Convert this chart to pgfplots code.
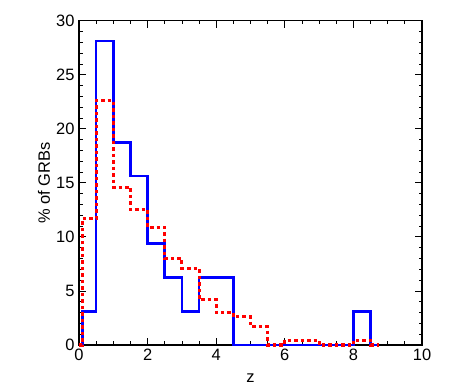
\documentclass[border=0pt]{standalone}
\usepackage{pgfplots}
\pgfplotsset{compat=1.18}
\usepackage{fontspec}
\setmainfont{Liberation Sans}
\usetikzlibrary{calc}
\begin{document}
\begin{tikzpicture}
\begin{axis}[
  scale only axis,
  width=343bp, height=324.3bp,
  xmin=0, xmax=10, ymin=0, ymax=30,
  xtick={0,2,4,6,8,10},
  ytick={0,5,10,15,20,25,30},
  minor x tick num=3,
  minor y tick num=4,
  tick align=inside,
  major tick length=7bp,
  minor tick length=3.5bp,
  tick style={black, line width=0.8bp},
  axis line style={black, line width=1.2bp},
  /pgf/number format/assume math mode=true,
  ticklabel style={font=\fontsize{16.5}{16.5}\selectfont},
  yticklabel style={xshift=-1bp},
  xticklabel style={yshift=-1bp},
  xlabel={z},
  ylabel={\% of GRBs},
  label style={font=\fontsize{16.5}{16.5}\selectfont},
  xlabel style={at={(axis description cs:0.5,{-33/324.3})}, anchor=center},
  ylabel style={at={(axis description cs:{-35/343},0.5)}, anchor=center},
  clip=false,
]
\addplot[const plot mark left, blue, line width=2.6bp, line join=miter] coordinates {
  (0,0) (0.1,3.125) (0.5,28.125) (1.0,18.75) (1.5,15.625) (2.0,9.375)
  (2.5,6.25) (3.0,3.125) (3.5,6.25) (4.5,0) (8.0,3.125) (8.5,0) (8.75,0)
};
\addplot[const plot mark left, red, line width=3bp, dash pattern=on 3.5bp off 3bp] coordinates {
  (0,0) (0.1,11.7) (0.5,22.6) (1.0,14.6) (1.5,12.5) (2.0,10.9) (2.5,8.0)
  (3.0,7.1) (3.5,4.2) (4.0,3.0) (4.5,2.6) (5.0,1.7) (5.5,0) (6.0,0.45)
  (7.0,0) (8.0,0.45) (8.5,0) (8.75,0)
};
\end{axis}
\pgfresetboundingbox
\path[use as bounding box] ($(current axis.south west)+(-79bp,-42bp)$) rectangle ($(current axis.north east)+(52bp,20.7bp)$);
\end{tikzpicture}
\end{document}
